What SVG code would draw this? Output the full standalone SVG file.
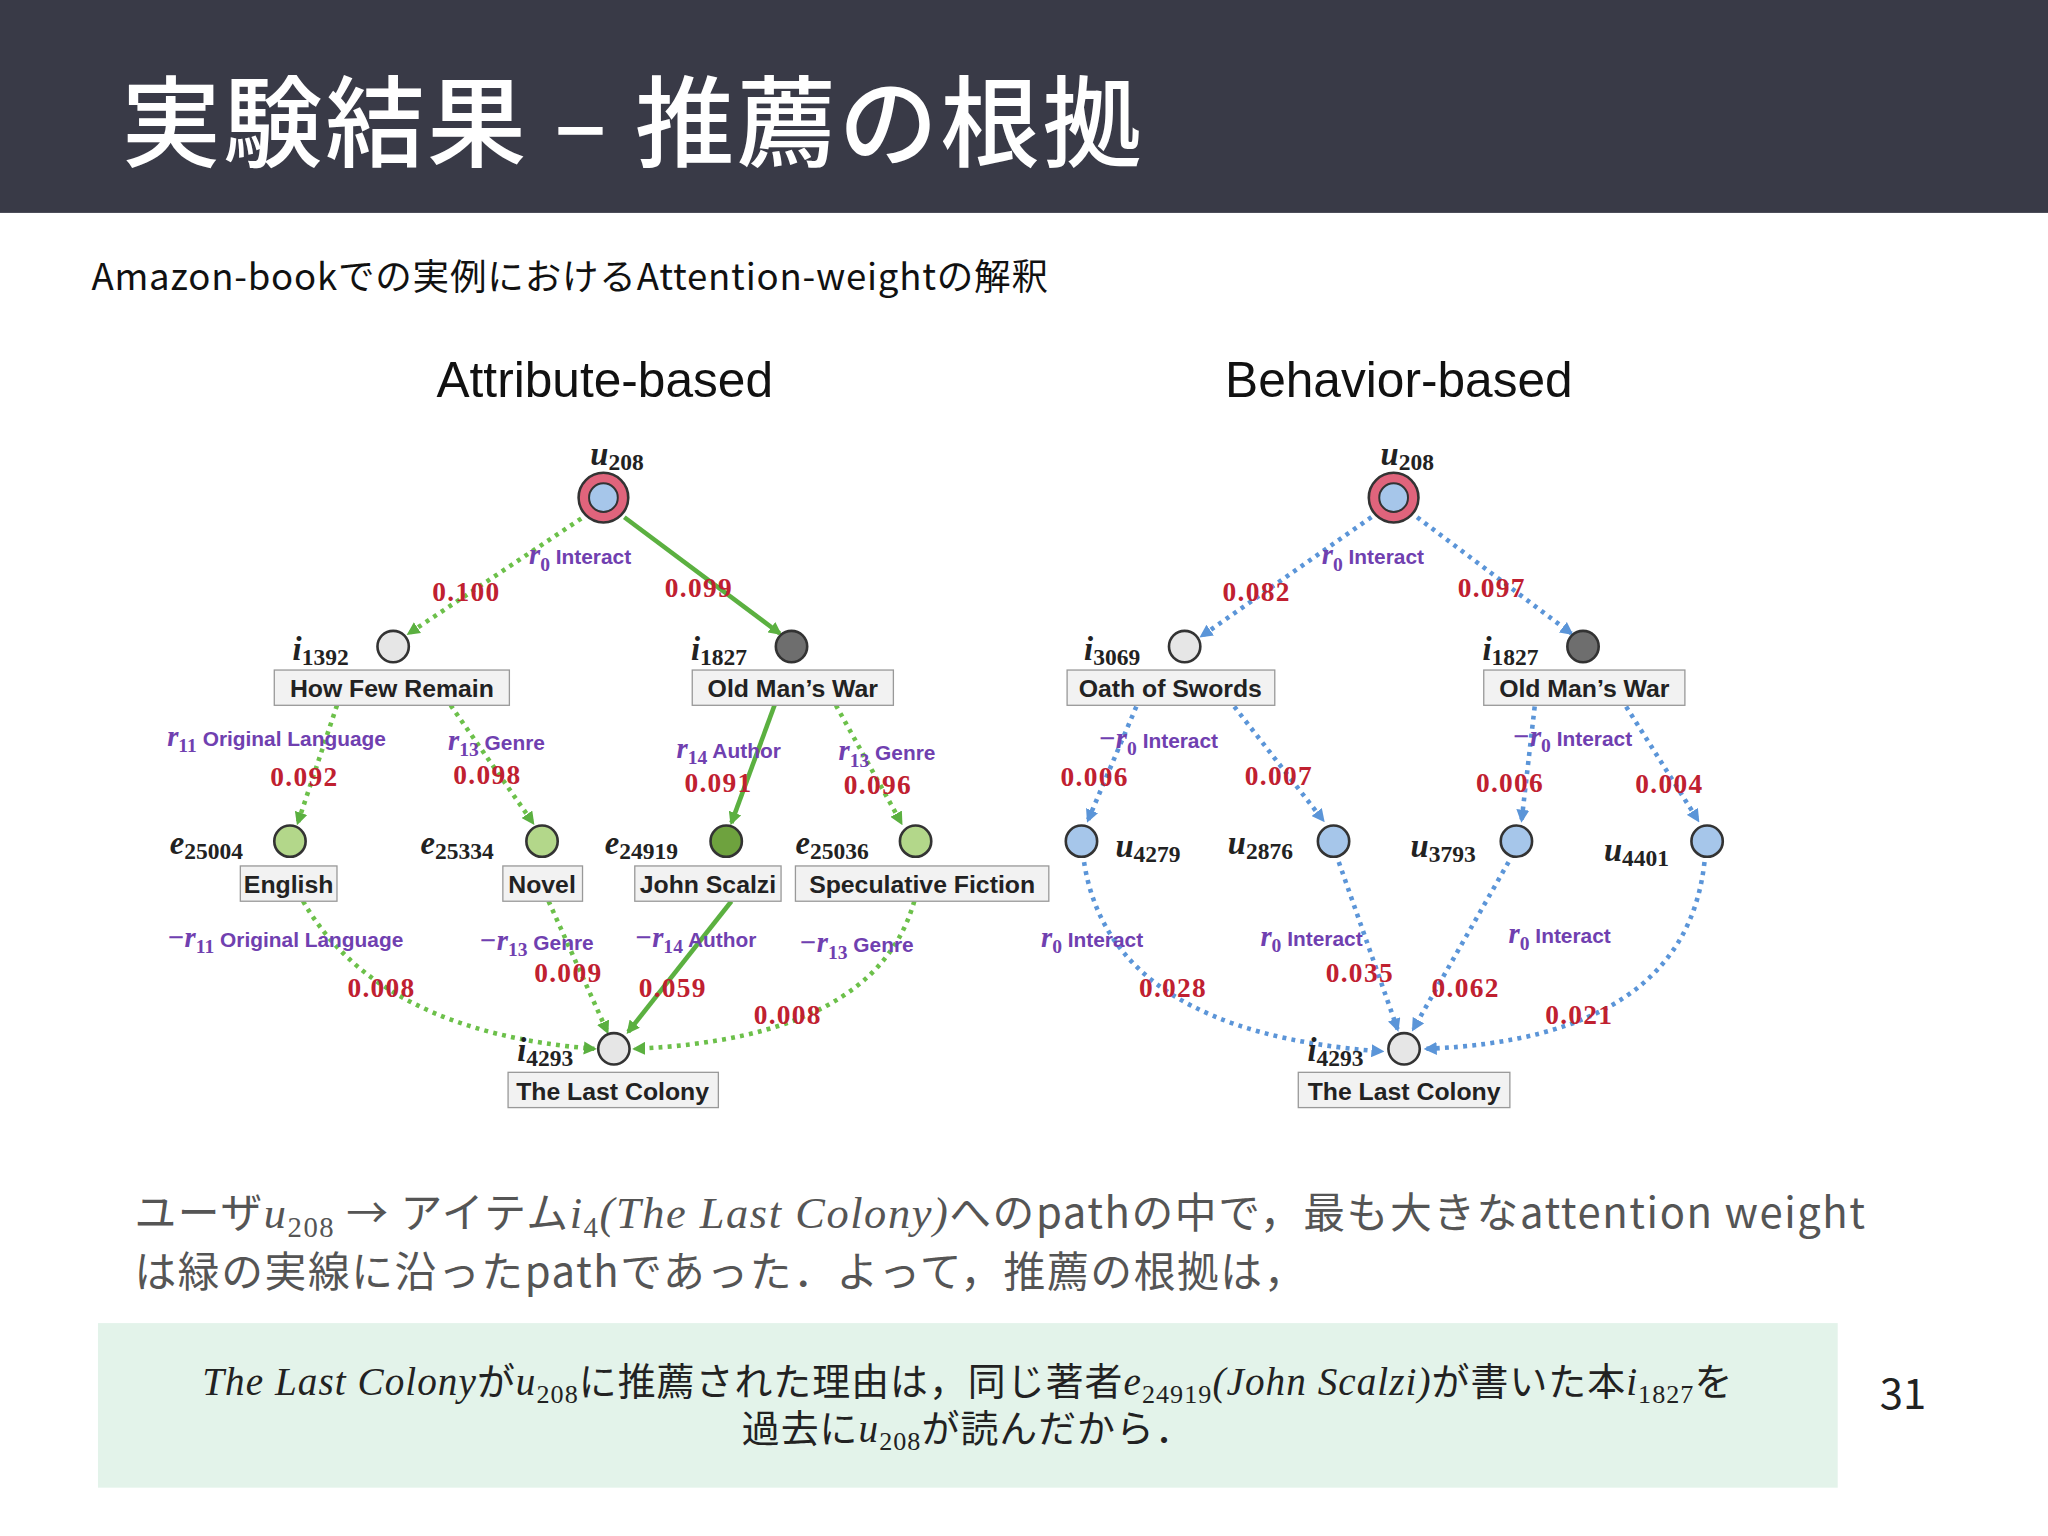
<svg xmlns="http://www.w3.org/2000/svg" width="2048" height="1536" viewBox="0 0 2048 1536">
<style>
.t{font-family:"Noto Sans CJK JP","Liberation Sans",sans-serif}
.m{font-family:"Liberation Serif",serif;font-style:italic}
.s{font-family:"Liberation Serif",serif;font-style:normal}
.nl{font-family:"Liberation Serif",serif;font-style:italic;font-weight:bold;font-size:25px;fill:#222}
.nl tspan{font-style:normal}
.rl{font-family:"Liberation Sans",sans-serif;font-size:16px;fill:#7040b0;font-weight:bold}
.rl .r{font-family:"Liberation Serif",serif;font-style:italic;font-size:22px}
.rl .d{font-family:"Liberation Serif",serif;font-size:15px}
.w{font-family:"Liberation Serif",serif;font-weight:bold;font-size:21px;fill:#c02030;letter-spacing:1px}
.box{fill:#f2f2f2;stroke:#999;stroke-width:1}
.bt{font-family:"Liberation Sans",sans-serif;font-weight:bold;font-size:19px;fill:#222;text-anchor:middle}
.gd{fill:none;stroke:#6cc04a;stroke-width:3.5;stroke-dasharray:3 4;marker-end:url(#ag)}
.gs{fill:none;stroke:#5bb040;stroke-width:3.5;marker-end:url(#ag)}
.bd{fill:none;stroke:#5b95d8;stroke-width:3.5;stroke-dasharray:3 4;marker-end:url(#ab)}
.nd{stroke:#333;stroke-width:2}
</style>
<defs>
<marker id="ag" markerWidth="10" markerHeight="10" refX="8" refY="5" orient="auto" markerUnits="userSpaceOnUse"><path d="M0,0 L10,5 L0,10 z" fill="#5bb040"/></marker>
<marker id="ab" markerWidth="10" markerHeight="10" refX="8" refY="5" orient="auto" markerUnits="userSpaceOnUse"><path d="M0,0 L10,5 L0,10 z" fill="#5b95d8"/></marker>
</defs>
<rect width="2048" height="1536" fill="#fff"/>
<g transform="scale(1.30612)">
<rect x="0" y="0" width="1568" height="163" fill="#393a47"/>
<text class="t" x="93" y="122" font-size="76" fill="#fff" letter-spacing="2" font-weight="500">実験結果 – 推薦の根拠</text>
<text class="t" x="70" y="222" font-size="28" fill="#111" letter-spacing="0.6">Amazon-bookでの実例におけるAttention-weightの解釈</text>
<text x="463" y="304" font-family="Liberation Sans,sans-serif" font-size="38" text-anchor="middle" fill="#111">Attribute-based</text>
<text x="1071" y="304" font-family="Liberation Sans,sans-serif" font-size="38" text-anchor="middle" fill="#111">Behavior-based</text>

<g id="edges">
<path class="gd" d="M445,397 L313,485"/>
<path class="gs" d="M478,396 L597,485"/>
<path class="gd" d="M258,540 L228,630"/>
<path class="gd" d="M345,540 L408,630"/>
<path class="gs" d="M593,540 L560,630"/>
<path class="gd" d="M640,540 L690,630"/>
<path class="gd" d="M232,690 Q290,790 455,803"/>
<path class="gd" d="M420,690 L465,790"/>
<path class="gs" d="M560,690 L481,790"/>
<path class="gd" d="M700,690 Q670,795 486,803"/>
<path class="bd" d="M1050,396 L920,487"/>
<path class="bd" d="M1085,396 L1203,485"/>
<path class="bd" d="M870,541 L833,628"/>
<path class="bd" d="M945,541 L1013,628"/>
<path class="bd" d="M1175,541 L1165,628"/>
<path class="bd" d="M1245,541 L1300,628"/>
<path class="bd" d="M830,660 Q850,790 1058,805"/>
<path class="bd" d="M1025,660 L1070,788"/>
<path class="bd" d="M1155,660 L1082,788"/>
<path class="bd" d="M1305,660 Q1290,795 1092,803"/>
</g>

<g id="edge-labels">
<text class="rl" x="405" y="432"><tspan class="r">r</tspan><tspan class="d" dy="5">0</tspan><tspan dy="-5"> Interact</tspan></text>
<text class="w" x="331" y="460">0.100</text>
<text class="w" x="509" y="457">0.099</text>
<text class="rl" x="128" y="571"><tspan class="r">r</tspan><tspan class="d" dy="5">11</tspan><tspan dy="-5"> Original Language</tspan></text>
<text class="w" x="207" y="602">0.092</text>
<text class="rl" x="343" y="574"><tspan class="r">r</tspan><tspan class="d" dy="5">13</tspan><tspan dy="-5"> Genre</tspan></text>
<text class="w" x="347" y="600">0.098</text>
<text class="rl" x="518" y="580"><tspan class="r">r</tspan><tspan class="d" dy="5">14</tspan><tspan dy="-5"> Author</tspan></text>
<text class="w" x="524" y="606">0.091</text>
<text class="rl" x="642" y="582"><tspan class="r">r</tspan><tspan class="d" dy="5">13</tspan><tspan dy="-5"> Genre</tspan></text>
<text class="w" x="646" y="608">0.096</text>
<text class="rl" x="128" y="725"><tspan class="r">−r</tspan><tspan class="d" dy="5">11</tspan><tspan dy="-5"> Original Language</tspan></text>
<text class="w" x="266" y="763">0.008</text>
<text class="rl" x="367" y="727"><tspan class="r">−r</tspan><tspan class="d" dy="5">13</tspan><tspan dy="-5"> Genre</tspan></text>
<text class="w" x="409" y="752">0.009</text>
<text class="rl" x="486" y="725"><tspan class="r">−r</tspan><tspan class="d" dy="5">14</tspan><tspan dy="-5"> Author</tspan></text>
<text class="w" x="489" y="763">0.059</text>
<text class="rl" x="612" y="729"><tspan class="r">−r</tspan><tspan class="d" dy="5">13</tspan><tspan dy="-5"> Genre</tspan></text>
<text class="w" x="577" y="784">0.008</text>

<text class="rl" x="1012" y="432"><tspan class="r">r</tspan><tspan class="d" dy="5">0</tspan><tspan dy="-5"> Interact</tspan></text>
<text class="w" x="936" y="460">0.082</text>
<text class="w" x="1116" y="457">0.097</text>
<text class="rl" x="841" y="573"><tspan class="r">−r</tspan><tspan class="d" dy="5">0</tspan><tspan dy="-5"> Interact</tspan></text>
<text class="w" x="812" y="602">0.006</text>
<text class="w" x="953" y="601">0.007</text>
<text class="rl" x="1158" y="571"><tspan class="r">−r</tspan><tspan class="d" dy="5">0</tspan><tspan dy="-5"> Interact</tspan></text>
<text class="w" x="1130" y="606">0.006</text>
<text class="w" x="1252" y="607">0.004</text>
<text class="rl" x="797" y="725"><tspan class="r">r</tspan><tspan class="d" dy="5">0</tspan><tspan dy="-5"> Interact</tspan></text>
<text class="w" x="872" y="763">0.028</text>
<text class="rl" x="965" y="724"><tspan class="r">r</tspan><tspan class="d" dy="5">0</tspan><tspan dy="-5"> Interact</tspan></text>
<text class="w" x="1015" y="752">0.035</text>
<text class="w" x="1096" y="763">0.062</text>
<text class="rl" x="1155" y="722"><tspan class="r">r</tspan><tspan class="d" dy="5">0</tspan><tspan dy="-5"> Interact</tspan></text>
<text class="w" x="1183" y="784">0.021</text>
</g>

<g id="L-u208"><circle cx="462" cy="381" r="19" fill="#e0647c" class="nd"/><circle cx="462" cy="381" r="11" fill="#a6c6ea" stroke="#333" stroke-width="1.5"/><text class="nl" x="452" y="356">u<tspan font-size="18" dy="4">208</tspan></text></g>
<g id="L-i1392"><circle cx="301" cy="495" r="12" fill="#e6e6e6" class="nd"/><text class="nl" x="224" y="505">i<tspan font-size="18" dy="4">1392</tspan></text><rect class="box" x="210" y="513" width="180" height="27"/><text class="bt" x="300" y="534">How Few Remain</text></g>
<g id="L-i1827"><circle cx="606" cy="495" r="12" fill="#6e6e6e" class="nd"/><text class="nl" x="529" y="505">i<tspan font-size="18" dy="4">1827</tspan></text><rect class="box" x="530" y="513" width="154" height="27"/><text class="bt" x="607" y="534">Old Man’s War</text></g>
<g id="L-e25004"><circle cx="222" cy="644" r="12" fill="#b3d78a" class="nd"/><text class="nl" x="130" y="654">e<tspan font-size="18" dy="4">25004</tspan></text><rect class="box" x="184" y="663" width="74" height="27"/><text class="bt" x="221" y="684">English</text></g>
<g id="L-e25334"><circle cx="415" cy="644" r="12" fill="#b3d78a" class="nd"/><text class="nl" x="322" y="654">e<tspan font-size="18" dy="4">25334</tspan></text><rect class="box" x="385" y="663" width="61" height="27"/><text class="bt" x="415" y="684">Novel</text></g>
<g id="L-e24919"><circle cx="556" cy="644" r="12" fill="#6ea23e" class="nd"/><text class="nl" x="463" y="654">e<tspan font-size="18" dy="4">24919</tspan></text><rect class="box" x="486" y="663" width="112" height="27"/><text class="bt" x="542" y="684">John Scalzi</text></g>
<g id="L-e25036"><circle cx="701" cy="644" r="12" fill="#b3d78a" class="nd"/><text class="nl" x="609" y="654">e<tspan font-size="18" dy="4">25036</tspan></text><rect class="box" x="609" y="663" width="194" height="27"/><text class="bt" x="706" y="684">Speculative Fiction</text></g>
<g id="L-i4293"><circle cx="470" cy="803" r="12" fill="#e6e6e6" class="nd"/><text class="nl" x="396" y="812">i<tspan font-size="18" dy="4">4293</tspan></text><rect class="box" x="389" y="821" width="161" height="27"/><text class="bt" x="469" y="842">The Last Colony</text></g>

<g id="R-u208"><circle cx="1067" cy="381" r="19" fill="#e0647c" class="nd"/><circle cx="1067" cy="381" r="11" fill="#a6c6ea" stroke="#333" stroke-width="1.5"/><text class="nl" x="1057" y="356">u<tspan font-size="18" dy="4">208</tspan></text></g>
<g id="R-i3069"><circle cx="907" cy="495" r="12" fill="#e6e6e6" class="nd"/><text class="nl" x="830" y="505">i<tspan font-size="18" dy="4">3069</tspan></text><rect class="box" x="817" y="513" width="159" height="27"/><text class="bt" x="896" y="534">Oath of Swords</text></g>
<g id="R-i1827"><circle cx="1212" cy="495" r="12" fill="#6e6e6e" class="nd"/><text class="nl" x="1135" y="505">i<tspan font-size="18" dy="4">1827</tspan></text><rect class="box" x="1136" y="513" width="154" height="27"/><text class="bt" x="1213" y="534">Old Man’s War</text></g>
<g id="R-u4279"><circle cx="828" cy="644" r="12" fill="#a6c6ea" class="nd"/><text class="nl" x="854" y="656">u<tspan font-size="18" dy="4">4279</tspan></text></g>
<g id="R-u2876"><circle cx="1021" cy="644" r="12" fill="#a6c6ea" class="nd"/><text class="nl" x="940" y="654">u<tspan font-size="18" dy="4">2876</tspan></text></g>
<g id="R-u3793"><circle cx="1161" cy="644" r="12" fill="#a6c6ea" class="nd"/><text class="nl" x="1080" y="656">u<tspan font-size="18" dy="4">3793</tspan></text></g>
<g id="R-u4401"><circle cx="1307" cy="644" r="12" fill="#a6c6ea" class="nd"/><text class="nl" x="1228" y="659">u<tspan font-size="18" dy="4">4401</tspan></text></g>
<g id="R-i4293"><circle cx="1075" cy="803" r="12" fill="#e6e6e6" class="nd"/><text class="nl" x="1001" y="812">i<tspan font-size="18" dy="4">4293</tspan></text><rect class="box" x="994" y="821" width="162" height="27"/><text class="bt" x="1075" y="842">The Last Colony</text></g>

<text class="t" x="103" y="940" font-size="32" fill="#555" letter-spacing="1.2">ユーザ<tspan class="m" font-size="34">u</tspan><tspan class="s" font-size="22" dy="7">208</tspan><tspan dy="-7"> → アイテム</tspan><tspan class="m" font-size="34">i</tspan><tspan class="s" font-size="22" dy="7">4</tspan><tspan class="m" font-size="34" dy="-7">(The Last Colony)</tspan><tspan>へのpathの中で，最も大きなattention weight</tspan></text>
<text class="t" x="103" y="985" font-size="32" fill="#555" letter-spacing="1.2">は緑の実線に沿ったpathであった．よって，推薦の根拠は，</text>

<rect x="75" y="1013" width="1332" height="126" fill="#e3f3ea"/>
<text class="t" x="741" y="1068" font-size="29" fill="#222" text-anchor="middle" letter-spacing="0.8"><tspan class="m" font-size="30">The Last Colony</tspan>が<tspan class="m" font-size="30">u</tspan><tspan class="s" font-size="20" dy="6">208</tspan><tspan dy="-6">に推薦された理由は，同じ著者</tspan><tspan class="m" font-size="30">e</tspan><tspan class="s" font-size="20" dy="6">24919</tspan><tspan class="m" font-size="30" dy="-6">(John Scalzi)</tspan>が書いた本<tspan class="m" font-size="30">i</tspan><tspan class="s" font-size="20" dy="6">1827</tspan><tspan dy="-6">を</tspan></text>
<text class="t" x="741" y="1104" font-size="29" fill="#222" text-anchor="middle" letter-spacing="0.8">過去に<tspan class="m" font-size="30">u</tspan><tspan class="s" font-size="20" dy="6">208</tspan><tspan dy="-6">が読んだから．</tspan></text>
<text class="t" x="1457" y="1079" font-size="32" fill="#222" text-anchor="middle">31</text>
</g>
</svg>
